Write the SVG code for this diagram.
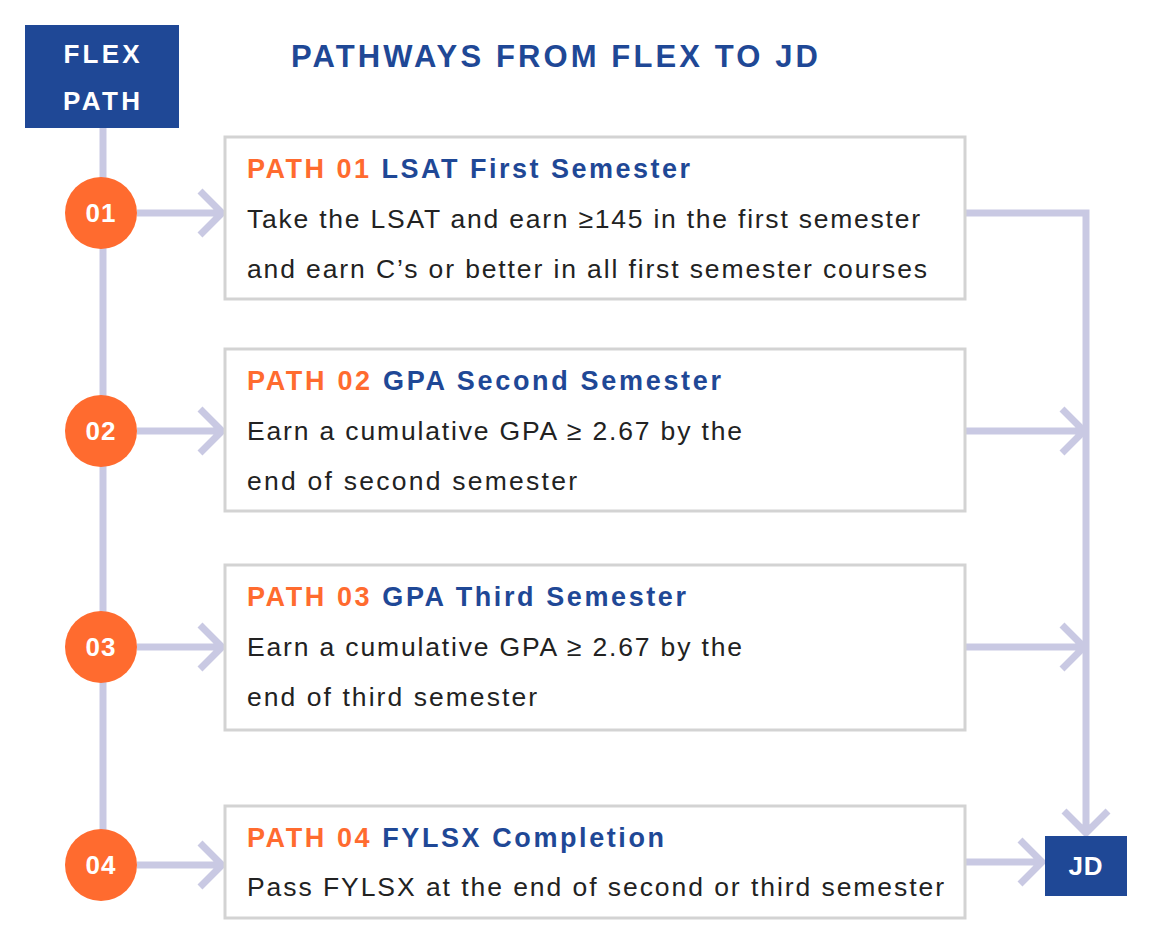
<svg xmlns="http://www.w3.org/2000/svg" width="1151" height="950" viewBox="0 0 1151 950">
<style>
.ln{stroke:#c9c9e3;stroke-width:7;fill:none}
.bx{fill:#fff;stroke:#d3d3d3;stroke-width:3}
.hd{font-family:"Liberation Sans",Arial,sans-serif;font-weight:bold;font-size:27px}
.o{fill:#ff6b2f}.b{fill:#1f4896}
.tx{font-family:"Liberation Sans",Arial,sans-serif;font-size:26.5px;fill:#222}
.ct{font-family:"Liberation Sans",Arial,sans-serif;font-weight:bold;font-size:26px;fill:#fff;text-anchor:middle;letter-spacing:1px}
</style>
<rect width="1151" height="950" fill="#fff"/>
<g id="connectors">
<path class="ln" d="M103 128V830"/>
<path class="ln" d="M137 213H222M200 191L222 213L200 235"/>
<path class="ln" d="M137 431H222M200 409L222 431L200 453"/>
<path class="ln" d="M137 647H222M200 625L222 647L200 669"/>
<path class="ln" d="M137 865H222M200 843L222 865L200 887"/>
<path class="ln" d="M965 213H1086V833M1064 811L1086 833L1108 811"/>
<path class="ln" d="M965 431H1084M1062 409L1084 431L1062 453"/>
<path class="ln" d="M965 647H1084M1062 625L1084 647L1062 669"/>
<path class="ln" d="M965 862H1042M1020 840L1042 862L1020 884"/>
</g>
<g id="flex"><rect x="25" y="25" width="154" height="103" fill="#1f4896"/>
<text class="ct" x="102" y="63" font-size="28" textLength="77" lengthAdjust="spacing">FLEX</text><text class="ct" x="102" y="110" font-size="28" textLength="78" lengthAdjust="spacing">PATH</text></g>
<text id="title" x="291" y="67" font-family="Liberation Sans,Arial,sans-serif" font-weight="bold" font-size="31" fill="#1f4896" textLength="527" lengthAdjust="spacing">PATHWAYS FROM FLEX TO JD</text>
<g id="c1"><circle cx="101" cy="213" r="36" fill="#ff6b2f"/><text class="ct" x="101" y="222">01</text></g>
<g id="c2"><circle cx="101" cy="431" r="36" fill="#ff6b2f"/><text class="ct" x="101" y="440">02</text></g>
<g id="c3"><circle cx="101" cy="647" r="36" fill="#ff6b2f"/><text class="ct" x="101" y="656">03</text></g>
<g id="c4"><circle cx="101" cy="865" r="36" fill="#ff6b2f"/><text class="ct" x="101" y="874">04</text></g>
<g id="p1"><rect class="bx" x="225" y="137" width="740" height="162"/>
<text class="hd" x="247" y="178" textLength="443" lengthAdjust="spacing"><tspan class="o">PATH 01 </tspan><tspan class="b">LSAT First Semester</tspan></text>
<text class="tx" x="247" y="228" textLength="673" lengthAdjust="spacing">Take the LSAT and earn ≥145 in the first semester</text>
<text class="tx" x="247" y="278" textLength="680" lengthAdjust="spacing">and earn C’s or better in all first semester courses</text></g>
<g id="p2"><rect class="bx" x="225" y="349" width="740" height="162"/>
<text class="hd" x="247" y="390" textLength="474" lengthAdjust="spacing"><tspan class="o">PATH 02 </tspan><tspan class="b">GPA Second Semester</tspan></text>
<text class="tx" x="247" y="440" textLength="495" lengthAdjust="spacing">Earn a cumulative GPA ≥ 2.67 by the</text>
<text class="tx" x="247" y="490" textLength="330" lengthAdjust="spacing">end of second semester</text></g>
<g id="p3"><rect class="bx" x="225" y="565" width="740" height="165"/>
<text class="hd" x="247" y="606" textLength="439" lengthAdjust="spacing"><tspan class="o">PATH 03 </tspan><tspan class="b">GPA Third Semester</tspan></text>
<text class="tx" x="247" y="656" textLength="495" lengthAdjust="spacing">Earn a cumulative GPA ≥ 2.67 by the</text>
<text class="tx" x="247" y="706" textLength="290" lengthAdjust="spacing">end of third semester</text></g>
<g id="p4"><rect class="bx" x="225" y="806" width="740" height="112"/>
<text class="hd" x="247" y="847" textLength="417" lengthAdjust="spacing"><tspan class="o">PATH 04 </tspan><tspan class="b">FYLSX Completion</tspan></text>
<text class="tx" x="247" y="896" textLength="697" lengthAdjust="spacing">Pass FYLSX at the end of second or third semester</text></g>
<g id="jd"><rect x="1045" y="836" width="82" height="60" fill="#1f4896"/><text class="ct" x="1086" y="875">JD</text></g>
</svg>
